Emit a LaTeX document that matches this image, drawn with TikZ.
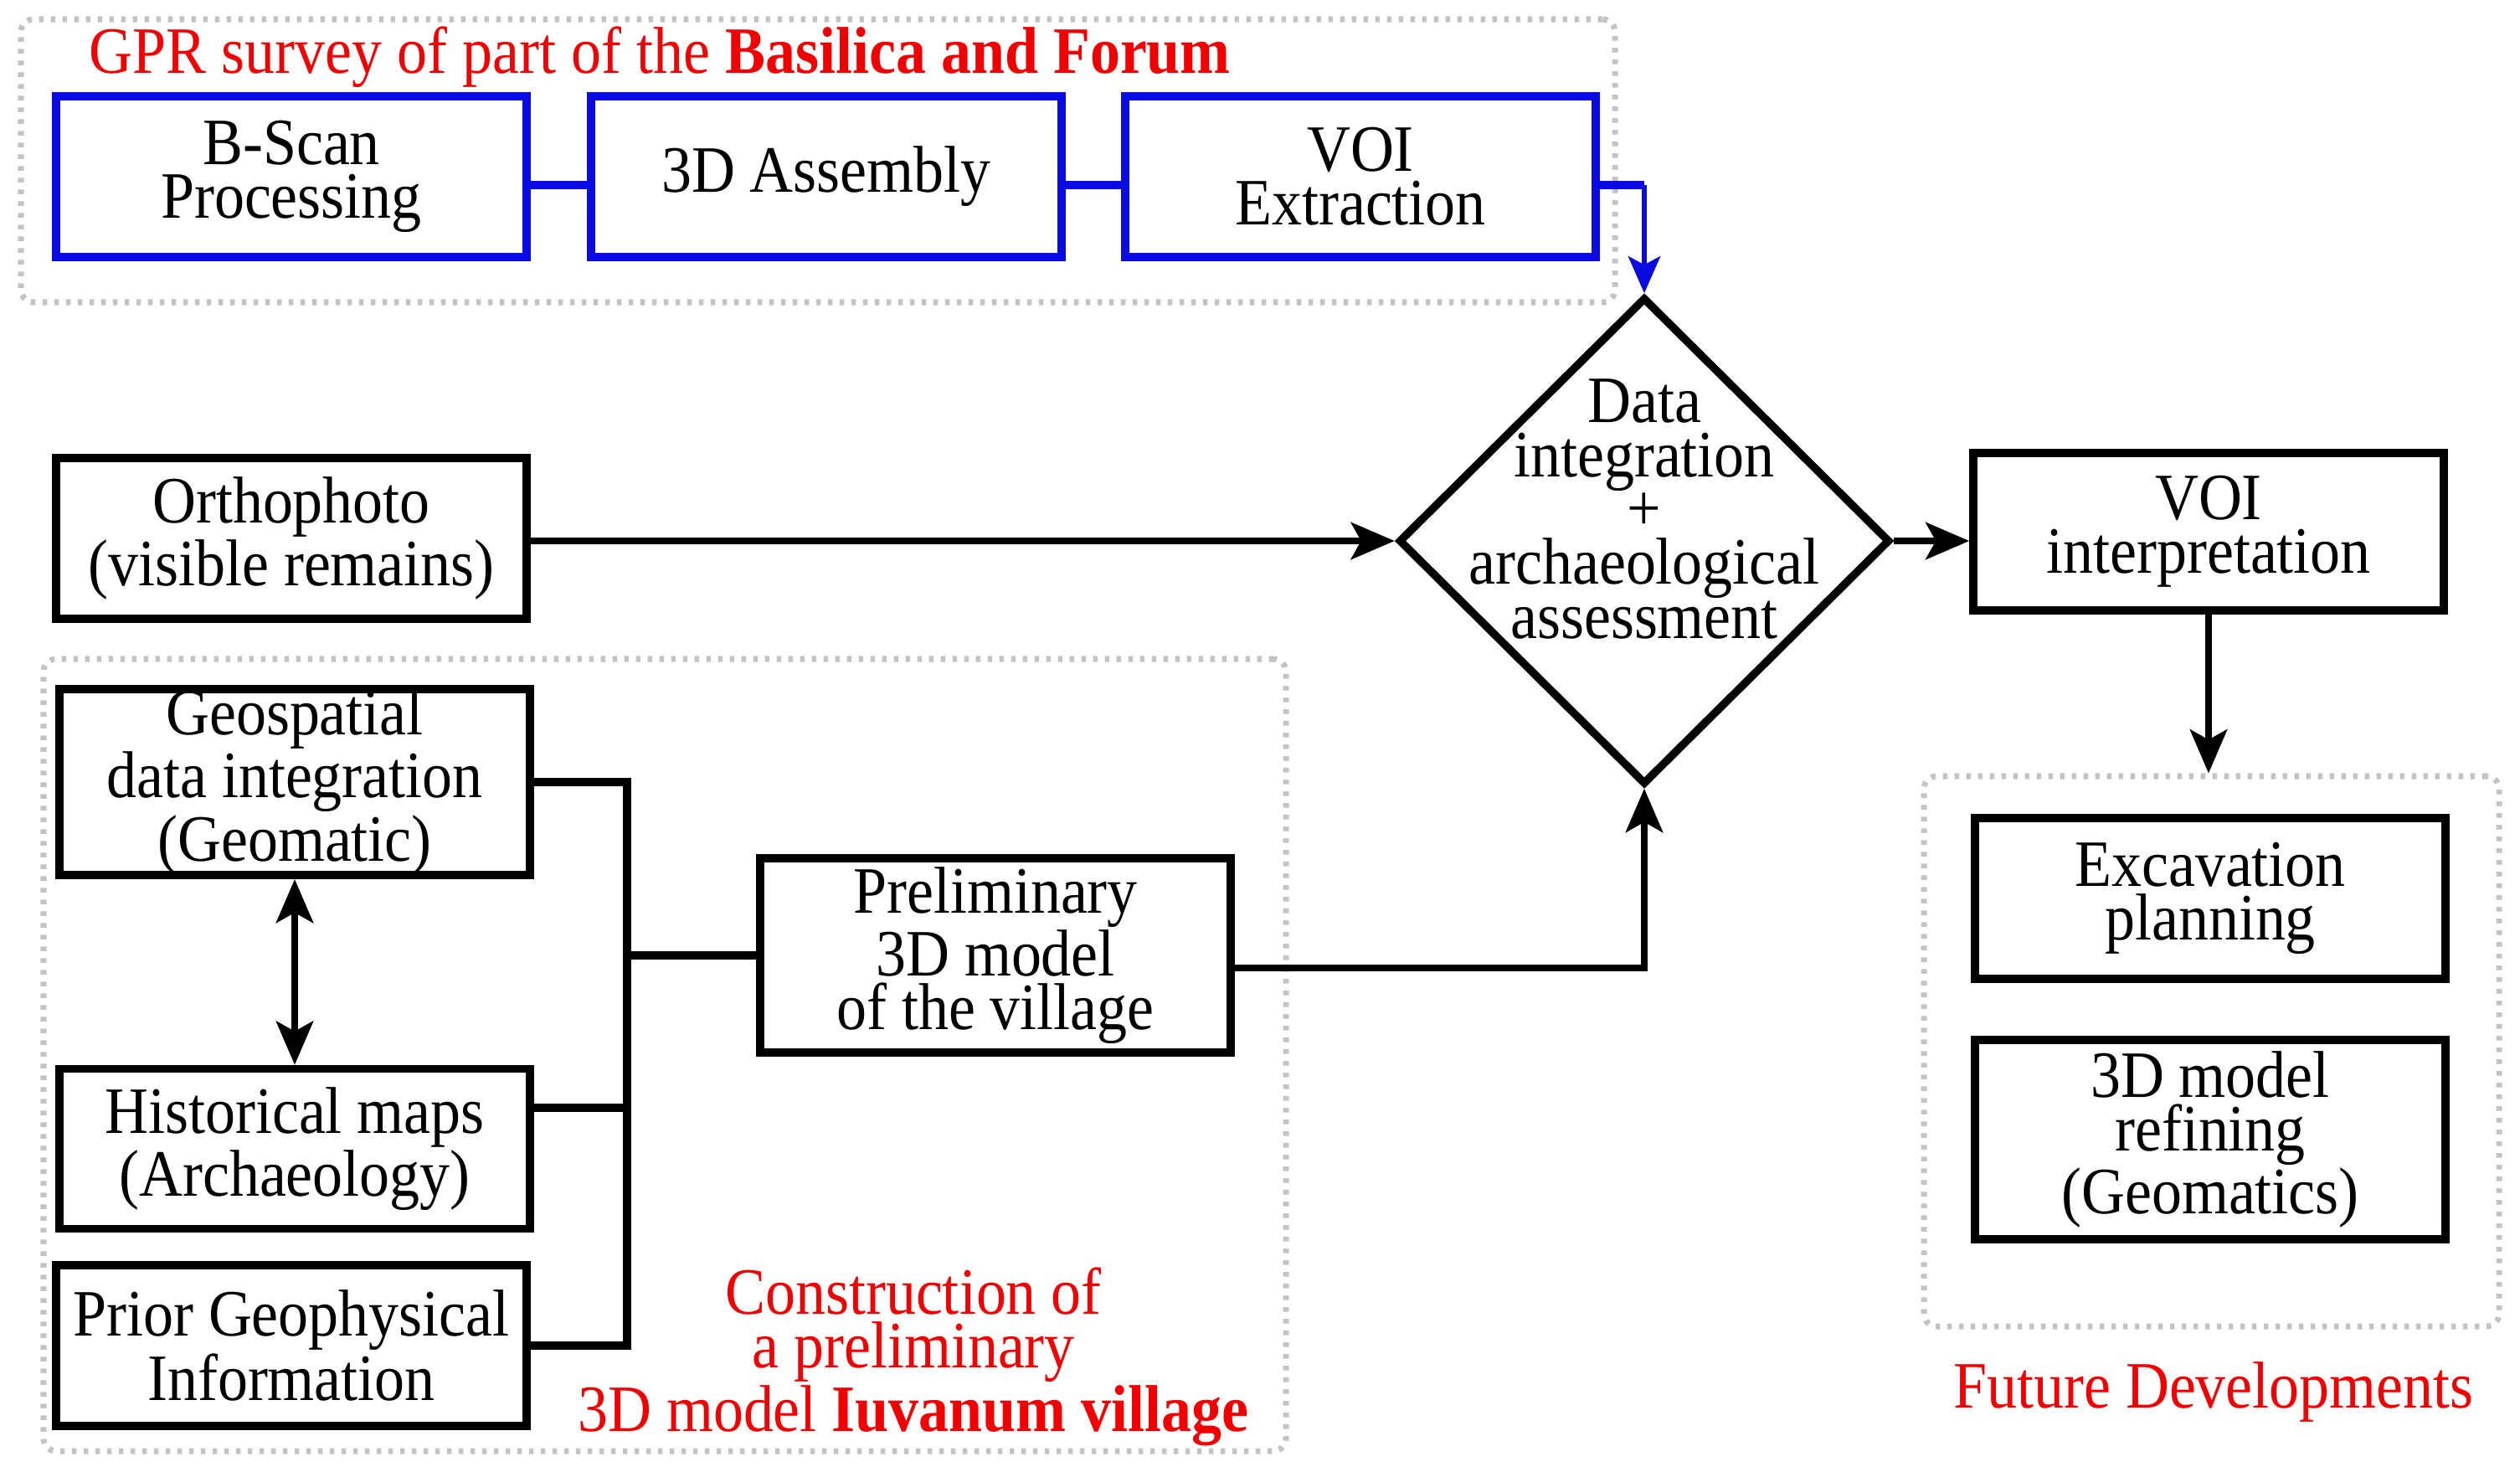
\documentclass[tikz,border=0pt]{standalone}
\usepackage{fontspec}
\setmainfont{Liberation Serif}[FakeStretch=0.91]
\usetikzlibrary{shapes.geometric,arrows.meta,calc}
\definecolor{gprblue}{RGB}{10,10,225}
\definecolor{redlab}{RGB}{240,0,0}
\definecolor{dotgray}{RGB}{195,195,195}
\tikzset{
  bigtip/.tip={Stealth[length=0.52cm,width=0.44cm,inset=0.12cm]},
  bluetip/.tip={Stealth[length=0.44cm,width=0.38cm,inset=0.1cm]}
}
\begin{document}
\begin{tikzpicture}[
  font=\fontsize{22.5}{18.3}\selectfont,
  box/.style={draw=black, line width=2.7pt, minimum width=5.62cm, inner sep=0pt, align=center},
  bluebox/.style={box, draw=gprblue},
  conn/.style={line width=2.7pt},
  arr/.style={line width=2.5pt, -bigtip},
  group/.style={draw=dotgray, line width=2pt, dash pattern=on 0.055cm off 0.085cm, rounded corners=0.15cm, inner sep=0pt},
  lab/.style={text=redlab, align=center, inner sep=0pt}
]
\useasboundingbox (0,0) rectangle (30.10,-17.52);

% group frames
\node[group, minimum width=19.04cm, minimum height=3.38cm] (gprg) at (9.77,-1.92) {};
\node[group, minimum width=14.84cm, minimum height=9.46cm] (lowg) at (7.94,-12.60) {};
\node[group, minimum width=6.87cm, minimum height=6.57cm] (fut) at (26.415,-12.555) {};

% labels
\node[lab, anchor=west] (title) at (1.06,-0.68) {GPR survey of part of the \textbf{Basilica and Forum}};
\node[lab] (constr) at (10.91,-16.20) {Construction of\\a preliminary\\3D model \textbf{Iuvanum village}};
\node[lab] (futl) at (26.44,-16.62) {Future Developments};

% boxes
\node[bluebox, minimum height=1.92cm] (bscan) at (3.48,-2.11) {B-Scan\\Processing};
\node[bluebox, minimum height=1.92cm] (asm) at (9.87,-2.11) {3D Assembly};
\node[bluebox, minimum height=1.92cm] (voie) at (16.25,-2.11) {VOI\\Extraction};
\node[box, minimum height=1.92cm] (ortho) at (3.48,-6.43) {Orthophoto\\(visible remains)};
\node[box, minimum height=1.90cm] (geo) at (3.52,-9.34) {Geospatial\\data integration\\(Geomatic)};
\node[box, minimum height=1.91cm] (hist) at (3.52,-13.72) {Historical maps\\(Archaeology)};
\node[box, minimum height=1.92cm] (prior) at (3.48,-16.07) {Prior Geophysical\\Information};
\node[box, minimum height=2.32cm] (prelim) at (11.89,-11.41) {Preliminary\\3D model\\of the village};
\node[box, minimum height=1.88cm] (voii) at (26.38,-6.35) {VOI\\interpretation};
\node[box, minimum height=1.92cm] (exc) at (26.40,-10.73) {Excavation\\planning};
\node[box, minimum height=2.38cm] (refine) at (26.40,-13.61) {3D model\\refining\\(Geomatics)};

% diamond
\node[draw, diamond, line width=2.7pt, minimum width=5.87cm, minimum height=5.82cm, inner sep=0pt] (dia) at (19.64,-6.46) {};
\node[align=center] (diat) at (19.64,-6.08) {Data\\integration\\+\\archaeological\\assessment};

% GPR chain
\draw[conn, gprblue] ($(bscan.east)+(0,-0.1)$) -- ($(asm.west)+(0,-0.1)$);
\draw[conn, gprblue] ($(asm.east)+(0,-0.1)$) -- ($(voie.west)+(0,-0.1)$);
\coordinate (vc) at ($(dia.north |- voie.east)+(0,-0.1)$);
\draw[conn, gprblue] ($(voie.east)+(0,-0.1)$) -- (vc);
\draw[line width=1.8pt, gprblue, -bluetip] (vc) -- (dia.north);

% main flow
\draw[arr] (ortho.east |- dia.west) -- (dia.west);
\draw[arr] (dia.east) -- (dia.east -| voii.west);
\draw[arr] (voii.south) -- (voii.south |- fut.north);

% lower group
\draw[line width=2.5pt, bigtip-bigtip] (geo.south) -- (hist.north);
\coordinate (bus) at (7.49,0);
\draw[conn] (geo.east) -- (geo.east -| bus) -- (prior.east -| bus) -- (prior.east);
\coordinate (hc) at ($(hist.east)+(0,0.49)$);
\draw[conn] (hc) -- (hc -| bus);
\draw[conn] (prelim.west) -- (prelim.west -| bus);
\coordinate (pc) at ($(prelim.east)+(0,-0.15)$);
\draw[arr] (pc) -| (dia.south);
\end{tikzpicture}
\end{document}
